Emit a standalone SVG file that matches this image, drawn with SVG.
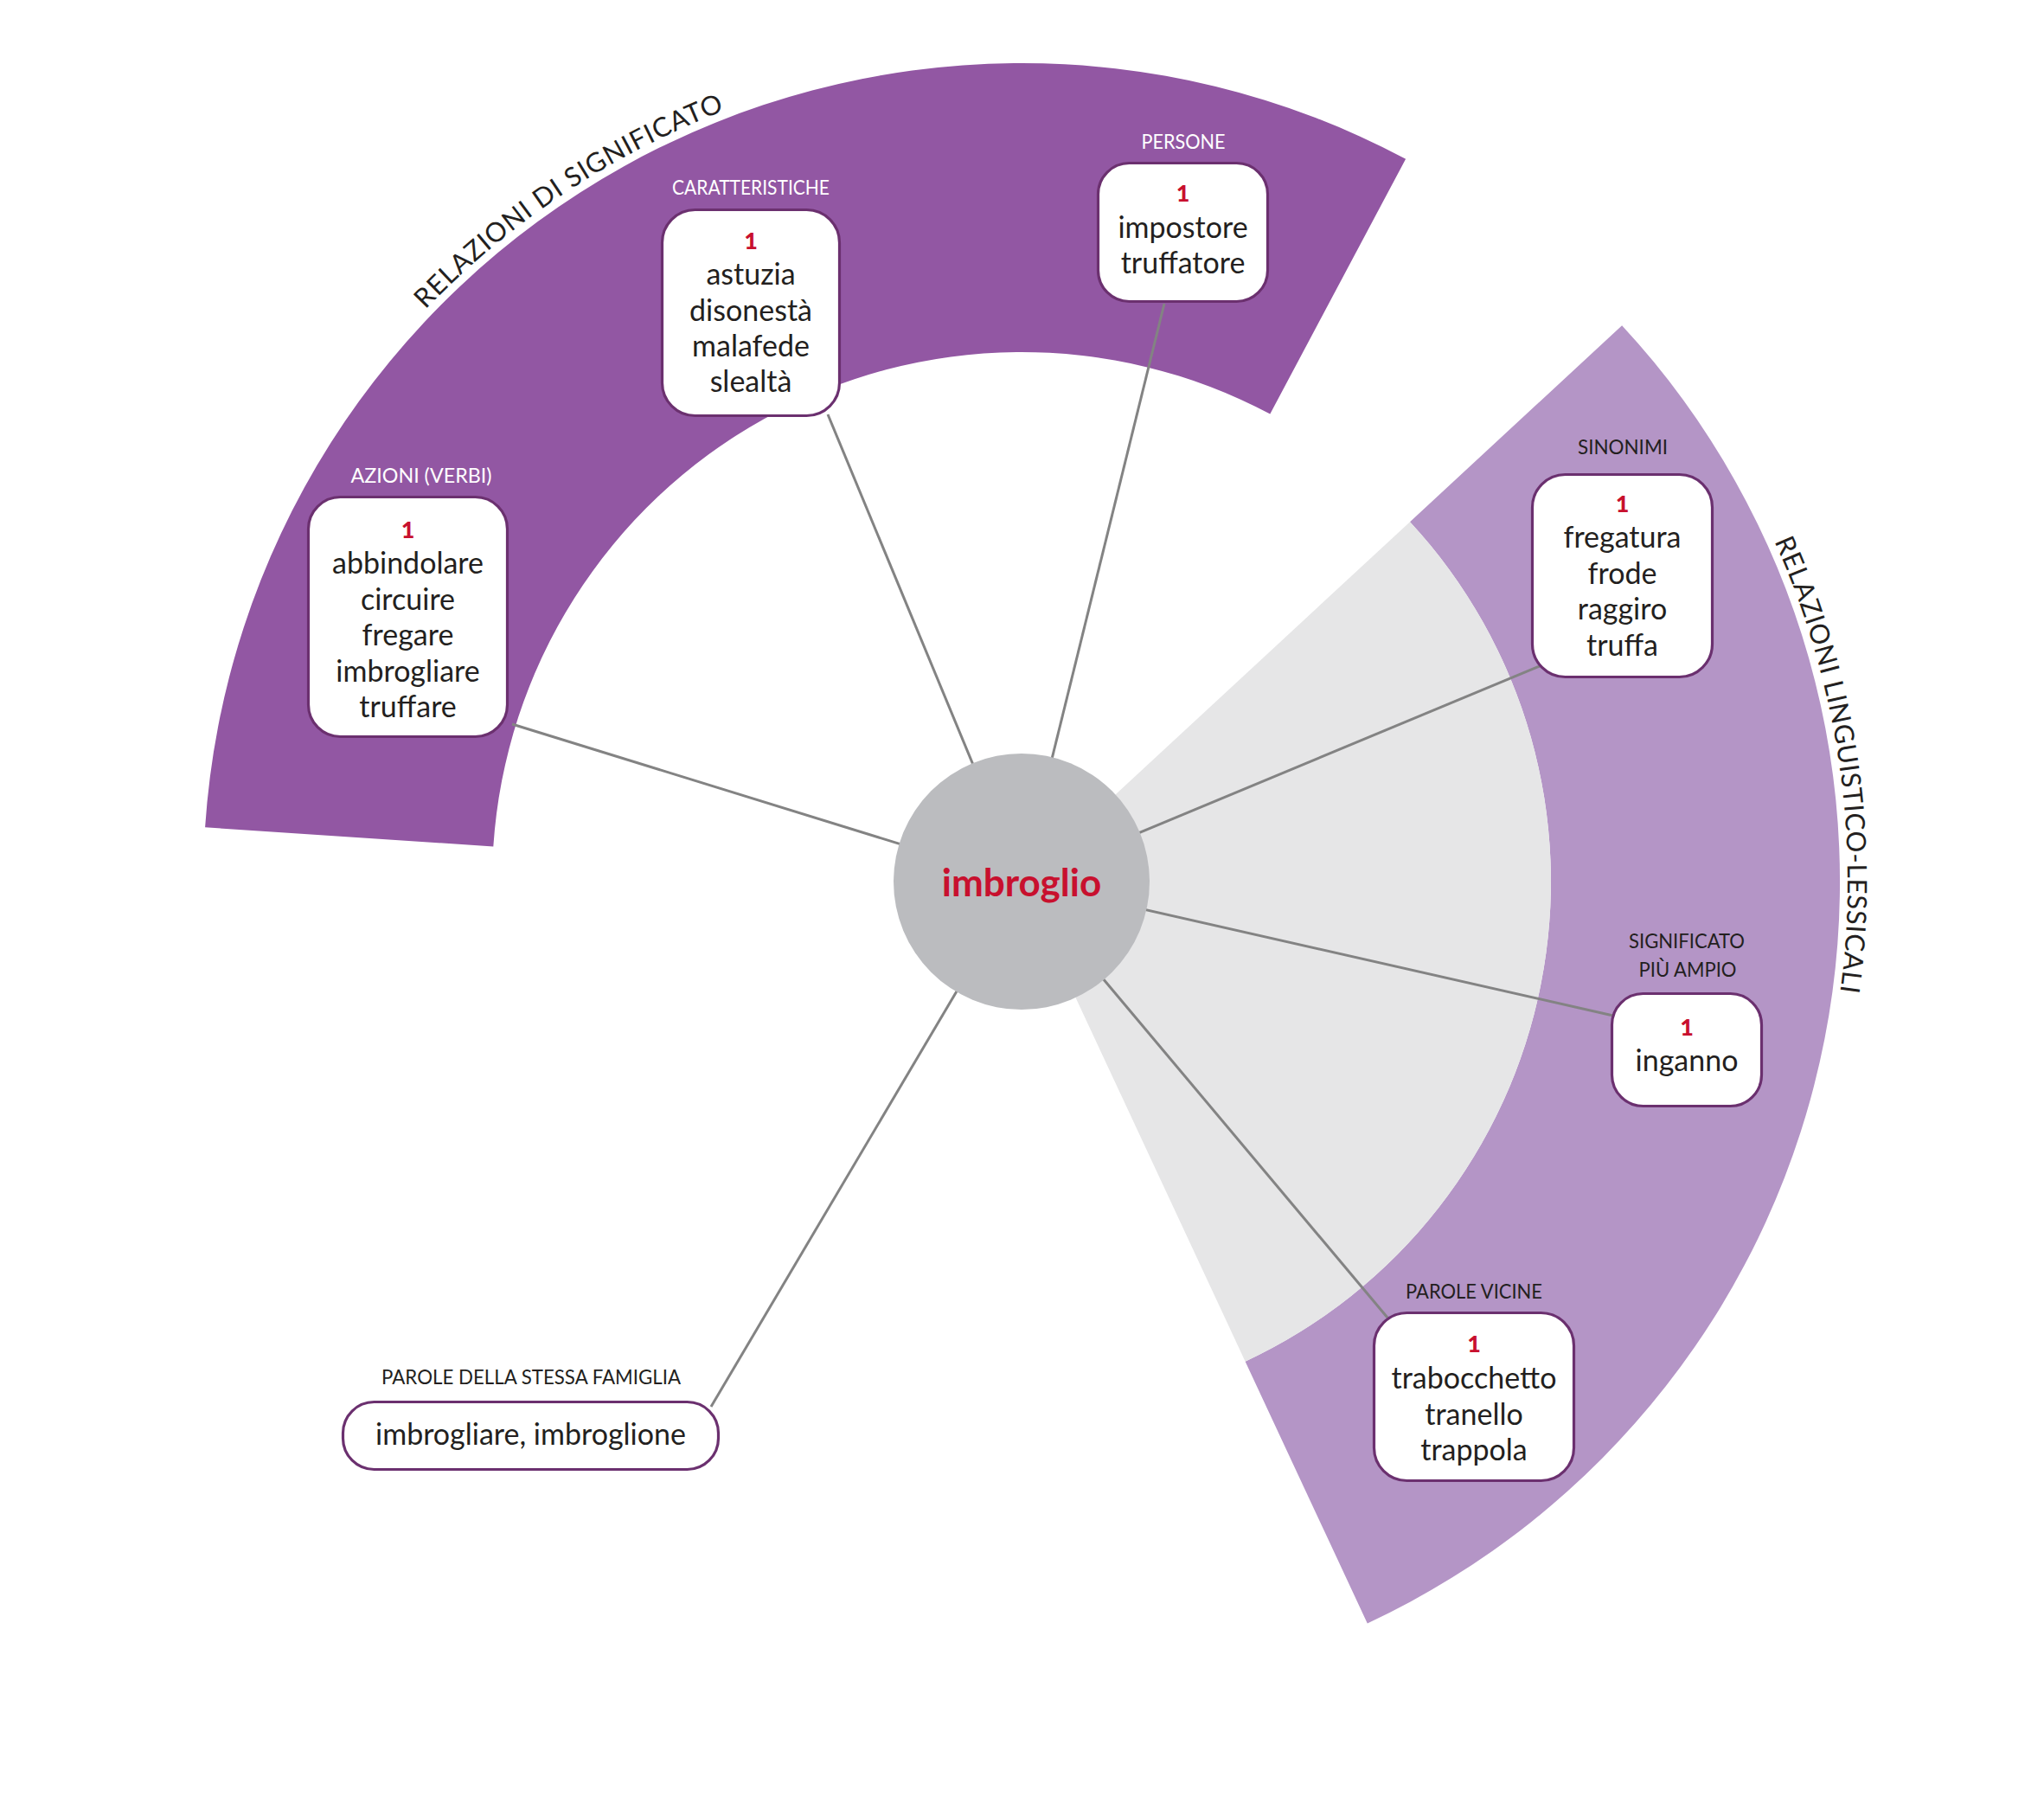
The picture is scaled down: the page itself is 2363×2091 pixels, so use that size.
<svg xmlns="http://www.w3.org/2000/svg" width="2363" height="2091" viewBox="0 0 2363 2091">
<style>
.band-dark{fill:#9257a3}
.band-light{fill:#b495c6}
.pie{fill:#e6e6e7}
.conn{stroke:#838383;stroke-width:3;fill:none}
.hub{fill:#bbbcbf}
.box{fill:#fff;stroke:#6b306f;stroke-width:3.2}
.lbl{font-family:Lato,'Liberation Sans',sans-serif;font-size:23px;text-anchor:middle}
.lw{fill:#fff}
.ld{fill:#231f20}
.num{font-family:Lato,'Liberation Sans',sans-serif;font-weight:900;font-size:27px;fill:#c8102e;text-anchor:middle}
.word{font-family:Lato,'Liberation Sans',sans-serif;font-size:34px;fill:#231f20;text-anchor:middle}
.title{font-family:Lato,'Liberation Sans',sans-serif;font-weight:700;font-size:44px;fill:#c8102e;text-anchor:middle}
.arc{font-family:Lato,'Liberation Sans',sans-serif;font-size:31px;fill:#231f20;text-anchor:middle}
</style>
<defs>
<path id="arcTop" d="M 325.6 594.4 A 955 955 0 0 1 1121.0 65.9"/>
<path id="arcRight" d="M 1930.5 427.1 A 955 955 0 0 1 2068.3 1372.1"/>
</defs>
<rect width="2363" height="2091" fill="#fff"/>
<g id="bands">
<path class="band-dark" d="M 237.1 956.3 A 946 946 0 0 1 1625.1 183.7 L 1468.3 478.6 A 612 612 0 0 0 570.3 978.4 Z"/>
<path class="band-light" d="M 1875.1 376.2 A 946 946 0 0 1 1580.8 1876.4 L 1439.6 1573.7 A 612 612 0 0 0 1630.0 603.2 Z"/>
<path class="pie" d="M 1181 1019 L 1630.0 603.2 A 612 612 0 0 1 1439.6 1573.7 Z"/>
</g>
<g id="band-titles">
<text class="arc" letter-spacing="1"><textPath href="#arcTop" startOffset="50%">RELAZIONI DI SIGNIFICATO</textPath></text>
<text class="arc" letter-spacing="0.7"><textPath href="#arcRight" startOffset="50%">RELAZIONI LINGUISTICO-LESSICALI</textPath></text>
</g>
<g id="connectors">
<line class="conn" x1="1181" y1="1019" x2="592" y2="837"/>
<line class="conn" x1="1181" y1="1019" x2="957" y2="479"/>
<line class="conn" x1="1181" y1="1019" x2="1346" y2="351"/>
<line class="conn" x1="1181" y1="1019" x2="1780" y2="770"/>
<line class="conn" x1="1181" y1="1019" x2="1865" y2="1174"/>
<line class="conn" x1="1181" y1="1019" x2="1604" y2="1523"/>
<line class="conn" x1="1181" y1="1019" x2="822" y2="1626"/>
</g>
<g id="node-imbroglio">
<circle class="hub" cx="1181" cy="1019" r="148"/>
<text class="title" x="1181" y="1036">imbroglio</text>
</g>
<g id="node-azioni">
<text class="lbl lw" x="487" y="558" textLength="163" lengthAdjust="spacingAndGlyphs">AZIONI (VERBI)</text>
<rect class="box" x="356.5" y="574.5" width="230" height="277" rx="37"/>
<text class="num" x="471.5" y="622">1</text>
<text class="word" x="471.5" y="663">abbindolare</text>
<text class="word" x="471.5" y="704.5">circuire</text>
<text class="word" x="471.5" y="746">fregare</text>
<text class="word" x="471.5" y="787.5">imbrogliare</text>
<text class="word" x="471.5" y="829">truffare</text>
</g>
<g id="node-caratteristiche">
<text class="lbl lw" x="868" y="225" textLength="182" lengthAdjust="spacingAndGlyphs">CARATTERISTICHE</text>
<rect class="box" x="765.5" y="242.5" width="205" height="238" rx="38"/>
<text class="num" x="868" y="288">1</text>
<text class="word" x="868" y="329">astuzia</text>
<text class="word" x="868" y="370.5">disonestà</text>
<text class="word" x="868" y="412">malafede</text>
<text class="word" x="868" y="453">slealtà</text>
</g>
<g id="node-persone">
<text class="lbl lw" x="1368" y="172" textLength="97" lengthAdjust="spacingAndGlyphs">PERSONE</text>
<rect class="box" x="1269.5" y="188.5" width="196" height="160" rx="36"/>
<text class="num" x="1367.5" y="233">1</text>
<text class="word" x="1367.5" y="275">impostore</text>
<text class="word" x="1367.5" y="316">truffatore</text>
</g>
<g id="node-sinonimi">
<text class="lbl ld" x="1876" y="525" textLength="104" lengthAdjust="spacingAndGlyphs">SINONIMI</text>
<rect class="box" x="1771.5" y="548.5" width="208" height="234" rx="38"/>
<text class="num" x="1875.5" y="592">1</text>
<text class="word" x="1875.5" y="633">fregatura</text>
<text class="word" x="1875.5" y="674.5">frode</text>
<text class="word" x="1875.5" y="716">raggiro</text>
<text class="word" x="1875.5" y="757.5">truffa</text>
</g>
<g id="node-significato">
<text class="lbl ld" x="1950" y="1096" textLength="134" lengthAdjust="spacingAndGlyphs">SIGNIFICATO</text>
<text class="lbl ld" x="1951" y="1129" textLength="113" lengthAdjust="spacingAndGlyphs">PIÙ AMPIO</text>
<rect class="box" x="1863.5" y="1148.5" width="173" height="130" rx="36"/>
<text class="num" x="1950" y="1197">1</text>
<text class="word" x="1950" y="1238">inganno</text>
</g>
<g id="node-vicine">
<text class="lbl ld" x="1704" y="1501" textLength="158" lengthAdjust="spacingAndGlyphs">PAROLE VICINE</text>
<rect class="box" x="1588.5" y="1517.5" width="231" height="194" rx="38"/>
<text class="num" x="1704" y="1563">1</text>
<text class="word" x="1704" y="1605">trabocchetto</text>
<text class="word" x="1704" y="1646.5">tranello</text>
<text class="word" x="1704" y="1688">trappola</text>
</g>
<g id="node-famiglia">
<text class="lbl ld" x="614" y="1600" textLength="346" lengthAdjust="spacingAndGlyphs">PAROLE DELLA STESSA FAMIGLIA</text>
<rect class="box" x="396.5" y="1620.5" width="434" height="78" rx="36"/>
<text class="word" x="613.5" y="1670">imbrogliare, imbroglione</text>
</g>
</svg>
